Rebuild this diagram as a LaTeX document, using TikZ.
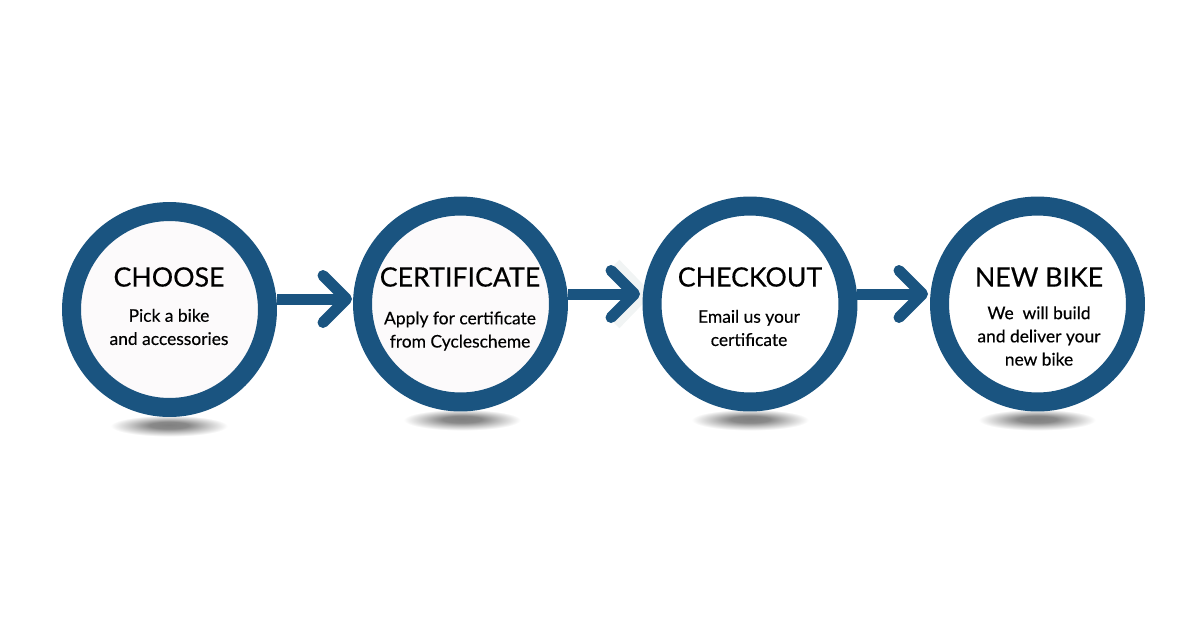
\documentclass[tikz,border=0pt]{standalone}
\usepackage{fontspec}
\setmainfont{Lato}[FakeBold=0.4]
\newfontface\medfont{Lato}[FakeBold=0.35]
\usetikzlibrary{arrows.meta,shapes.geometric}
\definecolor{ringblue}{HTML}{1A5480}
\definecolor{softwhite}{HTML}{FCFAFB}
\definecolor{palehalo}{HTML}{F1F4F4}
\pgfdeclareradialshading{groundshade}{\pgfpoint{0bp}{5bp}}{color(0bp)=(black!50);color(8bp)=(black!46);color(16bp)=(black!22);color(24bp)=(white);color(50bp)=(white)}
\tikzset{
  ring/.style={circle,draw=ringblue,line width=0.38cm,fill=softwhite,minimum size=3.92cm,inner sep=0pt},
  titletext/.style={font=\medfont\fontsize{15.2}{18}\selectfont,text=black},
  bodytext/.style={font=\medfont\fontsize{9.9}{13.2}\selectfont,text=black,align=center},
  flowarrow/.style={draw=ringblue,line width=0.22cm,-{Straight Barb[round,length=0.47cm,width=0.94cm]}},
  groundshadow/.style={ellipse,shading=groundshade,minimum width=2.44cm,minimum height=0.44cm,inner sep=0pt}
}
\begin{document}
\begin{tikzpicture}[x=0.02cm,y=-0.02cm]
\useasboundingbox (0,0) rectangle (1200,640);
% shadows under the rings
\node[groundshadow] (shadowa) at (169,427) {};
\node[groundshadow] (shadowb) at (462,421) {};
\node[groundshadow] (shadowc) at (750,421) {};
\node[groundshadow] (shadowd) at (1037,421) {};
% arrows
\coordinate (tipa) at (352,299);
\coordinate (tipb) at (640,294);
\coordinate (tipc) at (928,294);
\draw[palehalo,line width=0.3cm] (614,265) -- (642,294) -- (614,323);
% rings
\node[ring] (choose) at (169.5,309.5) {};
\node[ring] (certificate) at (460.5,304) {};
\node[ring,fill=white] (checkout) at (750,304) {};
\node[ring,fill=white] (newbike) at (1037.5,304) {};
\draw[flowarrow] (choose.east |- tipa) -- (tipa);
\draw[flowarrow] (certificate.east |- tipb) -- (tipb);
\draw[flowarrow] (checkout.east |- tipc) -- (tipc);
% texts
\node[titletext] (choosetitle) at (169,277) {CHOOSE};
\node[bodytext] (choosebody) at (169,327) {Pick a bike\\and accessories};
\node[titletext] (certificatetitle) at (460,277) {CERTIFICATE};
\node[bodytext] (certificatebody) at (460,331) {Apply for certificate\\from Cyclescheme};
\node[titletext] (checkouttitle) at (750,277) {CHECKOUT};
\node[bodytext] (checkoutbody) at (749,328) {Email us your\\certificate};
\node[titletext] (newbiketitle) at (1039,277) {NEW BIKE};
\node[bodytext] (newbikebody) at (1039,336) {We\ \ will build\\and deliver your\\new bike};
\end{tikzpicture}
\end{document}
